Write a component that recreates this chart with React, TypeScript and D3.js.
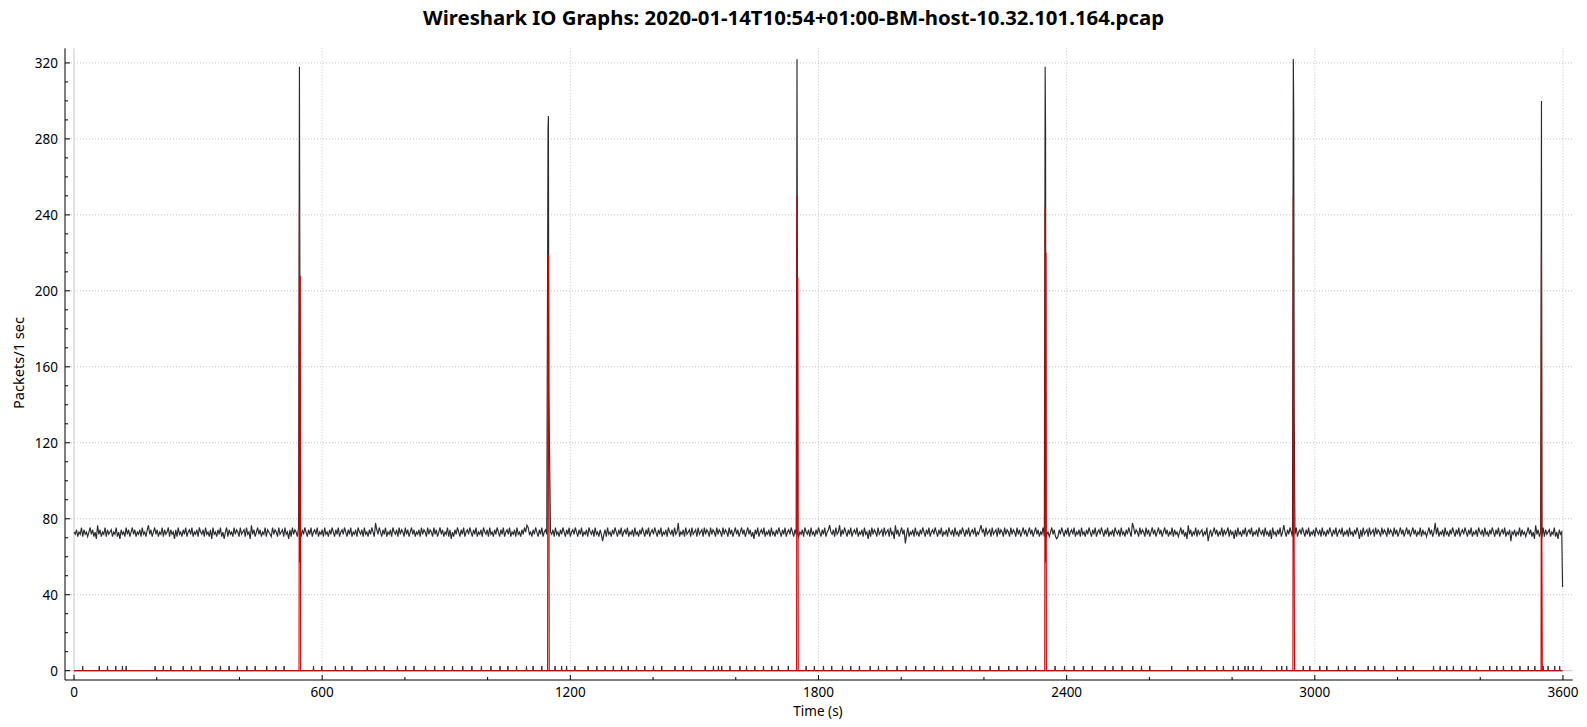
import React from "react";
import * as d3 from "d3";

const TITLE = "Wireshark IO Graphs: 2020-01-14T10:54+01:00-BM-host-10.32.101.164.pcap";
const X_LABEL = "Time (s)";
const Y_LABEL = "Packets/1 sec";

const xMajorTicks = [0, 600, 1200, 1800, 2400, 3000, 3600];
const yMajorTicks = [0, 40, 80, 120, 160, 200, 240, 280, 320];

// all packets per second, sampled every 3 s, as digits: value = 67 + 1.2 * digit
const noiseStep = 3;
const noiseBase = 67;
const noiseUnit = 1.2;
const noiseRows = [
  "5463547364535746352846354736456354735264537463574635463745368",
  "4635746354736457364526374536473564735463754637453627453647352",
  "5736453746537456374528463574635473654374653745637452637465371",
  "3647536473564735463745364753647356475364735463754637453647539",
  "6475364735463754637465374635746354637465374653746357463547362",
  "5364753647356475364735463754637453647536473564735463745364758",
  "7453647536473564735463745364753647356475364735463754637453641",
  "4637453647536473564735463745364753647356475364735463754637459",
  "3546374563745637456374653746537465374653746357463574635746352",
  "6473564735463745364753647356475364735463754637453647536473568",
  "5463745836475364735647354637452637465374563745637452846357460",
  "4735463745364753647356475364735463754637453647536473564735468",
  "5637456374563746537465374653746357463574635746354736453574632",
  "3647536473564735463745364753647356475364735463754637453647539",
  "7465374653746357463574635746354736453574635284635473645635471",
  "4635746354736457364526374536473564735463754637453627453647358",
  "5364753647356475364735463754637453647536473564735463745364752",
  "6374563745637465374653746537463574635746357463547364535746359",
  "4735463745364753647356475364735463754637453647536473564735461",
  "5463547364535746352846354736456354735264537463574635463745368",
  "3647536473564735463745364753647356475364735463754637453647535",
];
const lastTime = 3599;
const lastAllValue = 44;

// periodic bursts
const spikeTimes = [545, 1146, 1748, 2348, 2948, 3548];
const allSpikeValues = [
  [318, 208, 70],
  [285, 292, 145],
  [322, 207, 72],
  [318, 284, 70],
  [322, 294, 140],
  [300, 70],
];
const redSpikeValues = [
  [243, 57, 208],
  [212, 219, 145],
  [250, 90, 207],
  [244, 57, 220],
  [250, 140, 65],
  [220, 66],
];

// small events near zero
const eventTimes = [
  21, 61, 81, 101, 117, 126, 196, 216, 234, 264, 284, 305, 334, 354, 375, 395, 418, 438, 466, 488, 508,
  579, 599, 632, 652, 672, 709, 729, 750, 782, 802, 822, 850, 872, 895, 915, 940, 962, 985, 1008,
  1030, 1049, 1070, 1094, 1110, 1131, 1163, 1179, 1191, 1211, 1243, 1264, 1284, 1304, 1324, 1340, 1360,
  1380, 1401, 1421, 1453, 1473, 1493, 1526, 1546, 1558, 1566, 1586, 1610, 1626, 1646, 1667, 1687, 1703,
  1727, 1770, 1790, 1812, 1832, 1858, 1878, 1899, 1925, 1945, 1965, 1990, 2012, 2035, 2055, 2080, 2100,
  2125, 2148, 2170, 2190, 2215, 2236, 2260, 2280, 2305, 2325, 2372, 2395, 2418, 2440, 2462, 2493, 2512,
  2534, 2560, 2581, 2601, 2654, 2693, 2715, 2734, 2763, 2779, 2803, 2815, 2831, 2839, 2851, 2871, 2908,
  2920, 2932, 2972, 2988, 3012, 3029, 3057, 3077, 3097, 3129, 3145, 3166, 3198, 3218, 3238, 3287, 3303,
  3319, 3335, 3355, 3375, 3391, 3423, 3440, 3456, 3476, 3496, 3516, 3532, 3552, 3564, 3580, 3592,
];
const eventValue = 2.5;

const W = 1587;
const H = 727;
const font = "'Noto Sans', 'Open Sans', sans-serif";

export default function App() {
  const x = d3.scaleLinear().domain([-21.8, 3623.5]).range([65, 1572.7]);
  const y = d3.scaleLinear().domain([-4.9, 327.7]).range([680, 48.3]);

  // all packets series
  const noise = noiseRows.join("").split("").map((c) => noiseBase + noiseUnit * Number(c));
  const allPts: [number, number][] = [];
  noise.forEach((v, i) => {
    const t = i * noiseStep;
    if (t > lastTime - 1) return;
    const inSpike = spikeTimes.some((T, k) => t >= T - 1 && t <= T + allSpikeValues[k].length);
    if (!inSpike) allPts.push([t, v]);
  });
  spikeTimes.forEach((T, k) => allSpikeValues[k].forEach((v, j) => allPts.push([T + j, v])));
  allPts.push([lastTime, lastAllValue]);
  allPts.sort((a, b) => a[0] - b[0]);

  // red series
  const redPts: [number, number][] = [[0, 0]];
  spikeTimes.forEach((T, k) => {
    redPts.push([T - 1, 0]);
    redSpikeValues[k].forEach((v, j) => redPts.push([T + j, v]));
    redPts.push([T + redSpikeValues[k].length, 0]);
  });
  redPts.push([lastTime, 0]);

  // events series
  const evPts: [number, number][] = [[0, 0]];
  eventTimes.forEach((t) => {
    evPts.push([t - 1, 0], [t, eventValue], [t + 1, 0]);
  });
  evPts.push([lastTime, 0]);

  const line = d3
    .line<[number, number]>()
    .x((d) => x(d[0]))
    .y((d) => y(d[1]));

  const xMinor = d3.range(0, 3601, 200).filter((v) => v % 600 !== 0);
  const yMinor = d3.range(0, 321, 10).filter((v) => v % 40 !== 0);

  const [x0, x1] = x.range();
  const [yb, yt] = y.range();

  return (
    <svg
      width={W}
      height={H}
      style={{ position: "absolute", left: 0, top: 0, background: "#fff" }}
      fontFamily={font}
    >
      <rect width={W} height={H} fill="#fff" />
      <text
        x={793.5}
        y={25}
        textAnchor="middle"
        fontWeight="bold"
        fontSize={19}
        fill="#000"
        textLength={741}
        lengthAdjust="spacingAndGlyphs"
      >
        {TITLE}
      </text>

      {/* grid */}
      {xMajorTicks.filter((t) => t !== 0).map((t) => (
        <line key={"gx" + t} x1={x(t)} x2={x(t)} y1={yt} y2={yb} stroke="#c4c4c4" strokeDasharray="1,2" />
      ))}
      {yMajorTicks.filter((t) => t !== 0).map((t) => (
        <line key={"gy" + t} x1={x0} x2={x1} y1={y(t)} y2={y(t)} stroke="#c4c4c4" strokeDasharray="1,2" />
      ))}
      <line x1={x(0)} x2={x(0)} y1={yt} y2={yb} stroke="#c8c8c8" />
      <line x1={x0} x2={x1} y1={y(0)} y2={y(0)} stroke="#c8c8c8" />

      {/* series */}
      <path d={line(evPts) || ""} fill="none" stroke="#333333" strokeWidth={1} />
      <path d={line(allPts) || ""} fill="none" stroke="#2a2c2e" strokeWidth={1.15} />
      <path d={line(redPts) || ""} fill="none" stroke="#d40000" strokeWidth={1.1} />

      {/* axes */}
      <line x1={x0} x2={x0} y1={yt} y2={yb} stroke="#000" />
      <line x1={x0} x2={x1} y1={yb} y2={yb} stroke="#000" />
      {yMajorTicks.map((t) => (
        <g key={"ty" + t}>
          <line x1={x0} x2={x0 + 5} y1={y(t)} y2={y(t)} stroke="#000" />
          <text x={58} y={y(t)} dy="0.36em" textAnchor="end" fontSize={13.5} fill="#000">
            {t}
          </text>
        </g>
      ))}
      {yMinor.map((t) => (
        <line key={"my" + t} x1={x0} x2={x0 + 3} y1={y(t)} y2={y(t)} stroke="#000" />
      ))}
      {xMajorTicks.map((t) => (
        <g key={"tx" + t}>
          <line x1={x(t)} x2={x(t)} y1={yb} y2={yb - 5} stroke="#000" />
          <text x={x(t)} y={697} textAnchor="middle" fontSize={13.5} fill="#000">
            {t}
          </text>
        </g>
      ))}
      {xMinor.map((t) => (
        <line key={"mx" + t} x1={x(t)} x2={x(t)} y1={yb} y2={yb - 3} stroke="#000" />
      ))}

      <text x={818} y={716} textAnchor="middle" fontSize={13.5} fill="#000">
        {X_LABEL}
      </text>
      <text
        transform={`translate(23.5, 363) rotate(-90)`}
        textAnchor="middle"
        fontSize={14}
        fill="#000"
        textLength={92}
        lengthAdjust="spacingAndGlyphs"
      >
        {Y_LABEL}
      </text>
    </svg>
  );
}
